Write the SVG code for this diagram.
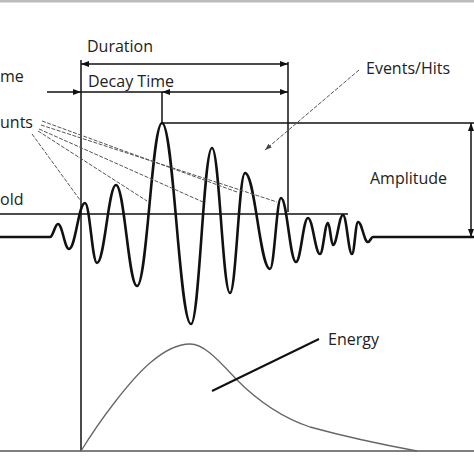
<svg xmlns="http://www.w3.org/2000/svg" width="474" height="474" viewBox="0 0 474 474">
<style>
text{font-family:"Open Sans","Liberation Sans",sans-serif;font-size:16px;fill:#222}
.ln{stroke:#111;stroke-width:1.5;fill:none}
.wave{stroke:#111;stroke-width:2.6;fill:none;stroke-linejoin:round}
.dash{stroke:#555;stroke-width:1;fill:none;stroke-dasharray:4 1.5}
.energy{stroke:#666;stroke-width:1.3;fill:none}
</style>
<defs>
<marker id="ah" viewBox="0 0 8 6" refX="8" refY="3" markerWidth="8" markerHeight="6" markerUnits="userSpaceOnUse" orient="auto-start-reverse">
<path d="M0,0 L8,3 L0,6 Z" fill="#111"/>
</marker>
<marker id="ahs" viewBox="0 0 8 6" refX="8" refY="3" markerWidth="7" markerHeight="5" markerUnits="userSpaceOnUse" orient="auto">
<path d="M0,0 L8,3 L0,6 Z" fill="#444"/>
</marker>
</defs>
<rect x="0" y="0" width="474" height="2.5" fill="#bbb"/>
<g id="axes">
<line class="ln" x1="81" y1="60" x2="81" y2="451"/>
<line x1="0" y1="451" x2="474" y2="451" stroke="#555" stroke-width="1.5"/>
<line class="ln" x1="288" y1="62" x2="288" y2="212"/>
<line class="ln" x1="0" y1="214" x2="348" y2="214"/>
<line class="ln" x1="162" y1="92" x2="162" y2="123"/>
<line class="ln" x1="162" y1="123" x2="474" y2="123"/>
</g>
<g id="waveform">
<path class="wave" d="M0,237 L50,237 C53.2,237 54.8,224 58,224 C62.4,224 64.6,249 69,249 C75.4,249 78.6,203 85,203 C89.8,203 92.2,263 97,263 C104.6,263 108.4,185 116,185 C124.4,185 128.6,286 137,286 C147,286 152,123 162,123 C173.6,123 179.4,324 191,324 C199.4,324 203.6,148 212,148 C219.2,148 222.8,293 230,293 C236,293 239,173 245,173 C255,173 260,269 270,269 C274.4,269 276.6,198 281,198 C287,198 290,262 296,262 C300.8,262 303.2,218 308,218 C312.8,218 315.2,254 320,254 C323.2,254 324.8,223 328,223 C330,223 331,245 333,245 C337,245 339,215 343,215 C346.6,215 348.4,254 352,254 C354.4,254 355.6,222 358,222 C362,222 364,242 368,242 C370,242 371,237 373,237 L474,237"/>
</g>
<g id="energy-curve">
<path class="energy" d="M81,451 C100,420 130,380 150,363 C165,350 178,344 190,344 C205,344 220,362 237,380 C255,398 280,417 310,427 C350,438 390,446 417,451"/>
</g>
<g id="connectors">
<line class="ln" x1="81" y1="64" x2="288" y2="64" marker-start="url(#ah)" marker-end="url(#ah)"/>
<line class="ln" x1="47" y1="92" x2="81" y2="92" marker-end="url(#ah)"/>
<line class="ln" x1="81" y1="92" x2="162" y2="92"/>
<line class="ln" x1="162" y1="92" x2="288" y2="92" marker-start="url(#ah)" marker-end="url(#ah)"/>
<line class="ln" x1="471" y1="123" x2="471" y2="237" marker-start="url(#ah)" marker-end="url(#ah)"/>
<line class="dash" x1="359" y1="70" x2="265" y2="150" marker-end="url(#ahs)"/>
<line class="dash" x1="42" y1="121" x2="237" y2="192"/>
<line class="dash" x1="41" y1="125" x2="277" y2="202"/>
<line class="dash" x1="39" y1="129" x2="203" y2="202"/>
<line class="dash" x1="38" y1="131" x2="147" y2="201"/>
<line class="dash" x1="32" y1="134" x2="80" y2="200"/>
<line x1="212" y1="391" x2="319" y2="339" stroke="#111" stroke-width="2"/>
</g>
<g id="labels">
<text x="87" y="52">Duration</text>
<text x="88" y="87">Decay Time</text>
<text x="0" y="82">me</text>
<text x="0" y="128">unts</text>
<text x="0" y="205">old</text>
<text x="366" y="74">Events/Hits</text>
<text x="370" y="184">Amplitude</text>
<text x="328" y="345">Energy</text>
</g>
</svg>
